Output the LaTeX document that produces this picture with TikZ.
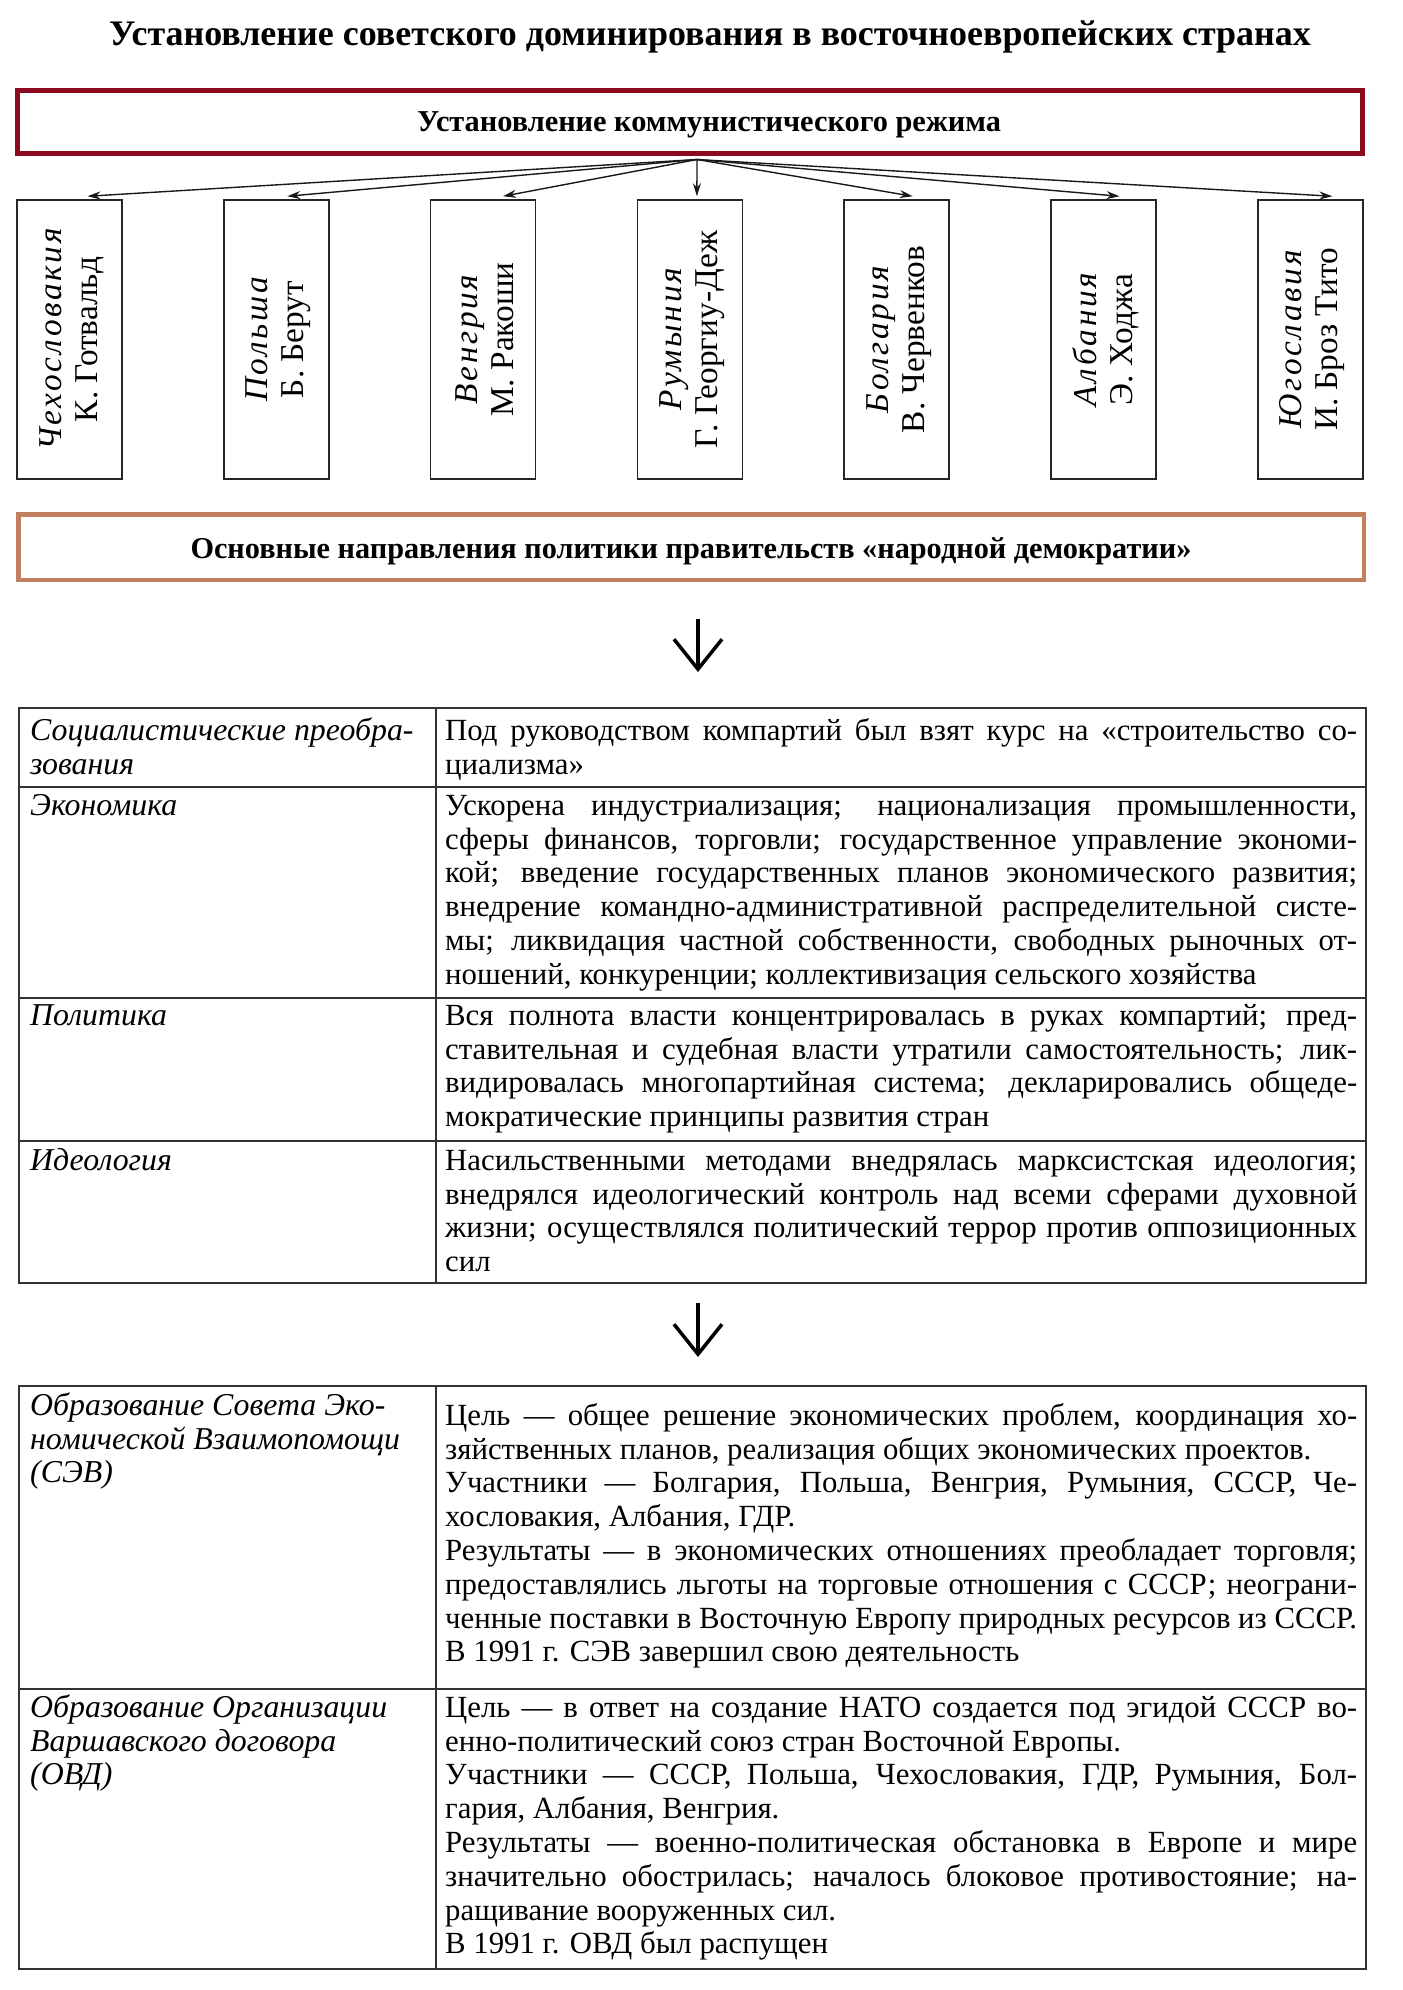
\documentclass[tikz,border=0pt]{standalone}
\usepackage{fontspec}
\setmainfont{Liberation Serif}
\usetikzlibrary{arrows.meta}
\definecolor{boxred}{HTML}{8C0A1E}
\definecolor{boxbrown}{HTML}{C08060}
\newsavebox\msrbox
\newdimen\maxR
\newdimen\tmpL
\newdimen\cw
\cw=912pt
\newcommand\msrR[1]{\sbox\msrbox{\fontsize{10}{12}\selectfont #1}\ifdim\wd\msrbox>\maxR \global\maxR=\wd\msrbox\fi}
\newcommand\skipE[1]{}
\newcommand\wid[2]{\sbox\msrbox{\fontsize{10}{12}\selectfont#1#2}\global\tmpL=\wd\msrbox}
\newcommand\Jset[1]{\makebox[\cw][s]{\rule{0pt}{26pt}#1}\\}
\newcommand\Eset[1]{\rule{0pt}{26pt}#1\\}
\newcommand\Iset[1]{\rule{0pt}{26pt}#1\\}
\newcommand\vi[1]{{\itshape\addfontfeature{LetterSpace=8}#1}}
% content
\newcommand\TxA{\J{Под руководством компартий был взят курс на «строительство со-}\E{циализма»}}
\newcommand\TxB{\J{Ускорена индустриализация; национализация промышленности,}\J{сферы финансов, торговли; государственное управление экономи-}\J{кой; введение государственных планов экономического развития;}\J{внедрение командно-административной распределительной систе-}\J{мы; ликвидация частной собственности, свободных рыночных от-}\E{ношений, конкуренции; коллективизация сельского хозяйства}}
\newcommand\TxC{\J{Вся полнота власти концентрировалась в руках компартий; пред-}\J{ставительная и судебная власти утратили самостоятельность; лик-}\J{видировалась многопартийная система; декларировались общеде-}\E{мократические принципы развития стран}}
\newcommand\TxD{\J{Насильственными методами внедрялась марксистская идеология;}\J{внедрялся идеологический контроль над всеми сферами духовной}\J{жизни; осуществлялся политический террор против оппозиционных}\E{сил}}
\newcommand\TxE{\J{Цель — общее решение экономических проблем, координация хо-}\N{зяйственных планов, реализация общих экономических проектов.}\J{Участники — Болгария, Польша, Венгрия, Румыния, СССР, Че-}\E{хословакия, Албания, ГДР.}\J{Результаты — в экономических отношениях преобладает торговля;}\J{предоставлялись льготы на торговые отношения с СССР; неограни-}\N{ченные поставки в Восточную Европу природных ресурсов из СССР.}\E{В 1991 г. СЭВ завершил свою деятельность}}
\newcommand\TxF{\J{Цель — в ответ на создание НАТО создается под эгидой СССР во-}\E{енно-политический союз стран Восточной Европы.}\J{Участники — СССР, Польша, Чехословакия, ГДР, Румыния, Бол-}\E{гария, Албания, Венгрия.}\J{Результаты — военно-политическая обстановка в Европе и мире}\J{значительно обострилась; началось блоковое противостояние; на-}\E{ращивание вооруженных сил.}\E{В 1991 г. ОВД был распущен}}
\newcommand\calc[3]{\ifdim\tmpL<1pt \global\tmpL=300pt\fi\pgfmathsetmacro\tmpM{10*#2/\the\tmpL}\xdef#1{\tmpM}}
\newcommand\domeasure{%
  \global\maxR=0pt
  \let\J\msrR \let\N\msrR \let\E\skipE
  \TxA\TxB\TxC\TxD\TxE\TxF
  \global\tmpL=\maxR
  \calc\fsR{912}{}%
  \wid{\itshape}{Социалистические преобра-}\calc\fsIa{378}{}%
  \wid{\itshape}{номической Взаимопомощи}\calc\fsIb{375}{}%
  \pgfmathsetmacro\tmpM{(\fsIa+\fsIb)/2}\xdef\fsI{\tmpM}%
  \wid{\bfseries}{Установление советского доминирования в восточноевропейских странах}\calc\fsT{1202}{}%
  \wid{\bfseries}{Установление коммунистического режима}\calc\fsB{584}{}%
  \wid{\bfseries}{Основные направления политики правительств «народной демократии»}\calc\fsC{1001}{}%
  \wid{}{Г. Георгиу-Деж}\calc\fsVa{216}{}%
  \wid{}{В. Червенков}\calc\fsVb{188}{}%
  \pgfmathsetmacro\tmpM{(\fsVa+\fsVb)/2}\xdef\fsV{\tmpM}%
}
\AtBeginDocument{\domeasure}
\begin{document}
\begin{tikzpicture}[x=1pt,y=-1pt,
  topbox/.style={draw=boxred,line width=5pt,minimum width=1345pt,minimum height=63pt,inner sep=0pt,
    text height=24pt,text depth=6pt,font=\fontsize{\fsB}{30}\selectfont\bfseries},
  midbox/.style={draw=boxbrown,line width=4.5pt,minimum width=1345.5pt,minimum height=65.5pt,inner sep=0pt,
    text height=26pt,text depth=4pt,font=\fontsize{\fsC}{30}\selectfont\bfseries},
  vbox/.style={draw=black!85,line width=1.5pt,minimum width=105pt,minimum height=279pt,inner sep=0pt},
  vtxt/.style={rotate=90,align=center,inner sep=0pt,font=\fontsize{\fsV}{36}\selectfont},
  conn/.style={draw=black!90,line width=1.4pt,-{Stealth[length=13pt,width=8pt]}},
  bigarr/.style={draw=black,line width=3.5pt,-{Straight Barb[length=30pt,width=48pt]}},
  tbl/.style={draw=black!80,line width=1.6pt},
  rtxt/.style={anchor=north west,inner sep=0pt,align=left,font=\fontsize{\fsR}{33.8}\selectfont},
  ltxt/.style={anchor=north west,inner sep=0pt,align=left,font=\fontsize{\fsI}{33.8}\selectfont\itshape}]
\useasboundingbox (0,0) rectangle (1403,1990);
\let\J\Jset \let\N\Eset \let\E\Eset \let\I\Iset
% ---- title ----
\node[anchor=base,inner sep=0pt,font=\fontsize{\fsT}{40}\selectfont\bfseries] (title) at (710,45)
  {Установление советского доминирования в восточноевропейских странах};
% ---- top box ----
\node[topbox] (top) at (690,122) {\hspace*{38pt}Установление коммунистического режима};
% ---- country boxes ----
\node[vbox] (b1) at (69.5,339.5) {};
\node[vbox] (b2) at (276.3,339.5) {};
\node[vbox] (b3) at (483.1,339.5) {};
\node[vbox] (b4) at (689.9,339.5) {};
\node[vbox] (b5) at (896.7,339.5) {};
\node[vbox] (b6) at (1103.5,339.5) {};
\node[vbox] (b7) at (1310.3,339.5) {};
\node[vtxt] (t1) at ([xshift=2pt]b1.center) {\vi{Чехословакия}\\К. Готвальд};
\node[vtxt] (t2) at ([xshift=2pt]b2.center) {\vi{Польша}\\Б. Берут};
\node[vtxt] (t3) at ([xshift=2pt]b3.center) {\vi{Венгрия}\\М. Ракоши};
\node[vtxt] (t4) at ([xshift=2pt]b4.center) {\vi{Румыния}\\Г. Георгиу-Деж};
\node[vtxt] (t5) at ([xshift=2pt]b5.center) {\vi{Болгария}\\В. Червенков};
\node[vtxt] (t6) at ([xshift=2pt]b6.center) {\vi{Албания}\\Э. Ходжа};
\node[vtxt] (t7) at ([xshift=2pt]b7.center) {\vi{Югославия}\\И. Броз Тито};
\coordinate (org) at ([xshift=7pt,yshift=-3.5pt]top.south);
\draw[conn] (org) -- ([xshift=18pt,yshift=3pt]b1.north);
\draw[conn] (org) -- ([xshift=11pt,yshift=3pt]b2.north);
\draw[conn] (org) -- ([xshift=20pt,yshift=3pt]b3.north);
\draw[conn] (org) -- ([xshift=7pt,yshift=3pt]b4.north);
\draw[conn] (org) -- ([xshift=16pt,yshift=3pt]b5.north);
\draw[conn] (org) -- ([xshift=16pt,yshift=3pt]b6.north);
\draw[conn] (org) -- ([xshift=22pt,yshift=3pt]b7.north);
% ---- second box ----
\node[midbox] (mid) at (691,547) {Основные направления политики правительств «народной демократии»};
% ---- arrow 1 ----
\coordinate (a1s) at (698,619);
\coordinate (a1e) at (698,672);
\draw[bigarr] (a1s) -- (a1e);
% ---- table 1 ----
\draw[tbl] (19,708) rectangle (1366,1283);
\draw[tbl] (436,708) -- (436,1283);
\draw[tbl] (19,787) -- (1366,787);
\draw[tbl] (19,998) -- (1366,998);
\draw[tbl] (19,1141) -- (1366,1141);
\node[ltxt] (l1) at (30,714) {\I{Социалистические преобра-}\I{зования}};
\node[rtxt] (r1) at (445,714) {\TxA};
\node[ltxt] (l2) at (30,789) {\I{Экономика}};
\node[rtxt] (r2) at (445,789) {\TxB};
\node[ltxt] (l3) at (30,999) {\I{Политика}};
\node[rtxt] (r3) at (445,999) {\TxC};
\node[ltxt] (l4) at (30,1144) {\I{Идеология}};
\node[rtxt] (r4) at (445,1144) {\TxD};
% ---- arrow 2 ----
\coordinate (a2s) at (698,1303);
\coordinate (a2e) at (698,1357);
\draw[bigarr] (a2s) -- (a2e);
% ---- table 2 ----
\draw[tbl] (19,1386) rectangle (1366,1969);
\draw[tbl] (436,1386) -- (436,1969);
\draw[tbl] (19,1689) -- (1366,1689);
\node[ltxt] (l5) at (30,1389) {\I{Образование Совета Эко-}\I{номической Взаимопомощи}\I{(СЭВ)}};
\node[rtxt] (r5) at (445,1399) {\TxE};
\node[ltxt] (l6) at (30,1691) {\I{Образование Организации}\I{Варшавского договора}\I{(ОВД)}};
\node[rtxt] (r6) at (445,1691) {\TxF};
\end{tikzpicture}
\end{document}
